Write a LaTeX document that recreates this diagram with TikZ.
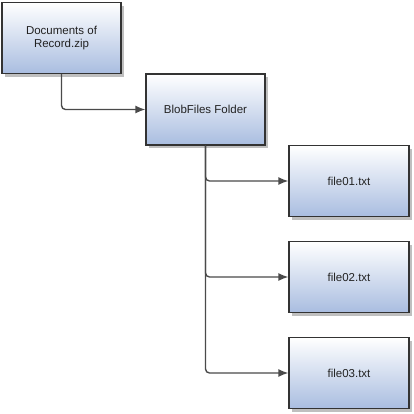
\documentclass[tikz,border=0pt]{standalone}
\usepackage{fontspec}
\setmainfont{Liberation Sans}
\usetikzlibrary{arrows.meta,shadows}
\definecolor{boxblue}{HTML}{A9BDE0}
\definecolor{boxline}{HTML}{333333}
\definecolor{wireline}{HTML}{4A4A4A}
\definecolor{textgray}{HTML}{222222}
\tikzset{
  filebox/.style={draw=boxline, line width=1.3pt, top color=white, bottom color=boxblue,
    minimum width=119bp, minimum height=71bp, align=center, inner sep=0pt,
    text=textgray, font=\fontsize{11.5bp}{13bp}\selectfont,
    drop shadow={shadow xshift=3bp, shadow yshift=-3bp, fill=black!25, opacity=1}},
  wire/.style={draw=wireline, line width=1.4pt, rounded corners=4bp, -{Latex[length=10bp,width=8bp]}}
}
\begin{document}
\begin{tikzpicture}[x=1bp,y=-1bp]
\useasboundingbox (0,0) rectangle (414,414);
\node[filebox] (zip) at (61.5,38) {Documents of\\Record.zip};
\node[filebox] (blob) at (205.5,109.5) {BlobFiles Folder};
\node[filebox, minimum width=120bp] (f1) at (349,181) {file01.txt};
\node[filebox, minimum width=120bp] (f2) at (349,277) {file02.txt};
\node[filebox, minimum width=120bp] (f3) at (349,373) {file03.txt};
\draw[wire] (zip.south) |- (blob.west);
\draw[wire] (blob.south) |- (f1.west);
\draw[wire] (blob.south) |- (f2.west);
\draw[wire] (blob.south) |- (f3.west);
\end{tikzpicture}
\end{document}
